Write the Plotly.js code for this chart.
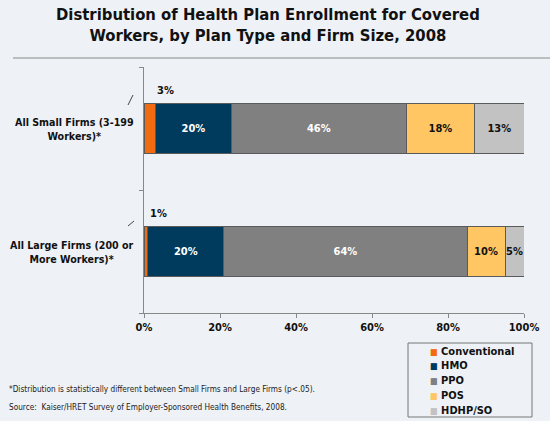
<!DOCTYPE html>
<html>
<head>
<meta charset="utf-8">
<script src="https://cdn.plot.ly/plotly-3.0.1.min.js"></script>
<style>html,body{margin:0;padding:0;background:#eef1f5;}#chart{width:550px;height:421px;}</style>
</head>
<body>
<div id="chart"></div>
<script>
// ---- data ----
var categories = ['All Small Firms (3-199 Workers)*', 'All Large Firms (200 or More Workers)*'];
var categoryLabels = ['All Small Firms (3-199<br>Workers)*', 'All Large Firms (200 or<br>More Workers)*'];
var seriesNames = ['Conventional', 'HMO', 'PPO', 'POS', 'HDHP/SO'];
var conventional = [3, 1];
var hmo = [20, 20];
var ppo = [46, 64];
var pos = [18, 10];
var hdhp = [13, 5];
var xTickVals = [0, 20, 40, 60, 80, 100];
var xTickText = ['0%', '20%', '40%', '60%', '80%', '100%'];
var title = 'Distribution of Health Plan Enrollment for Covered<br>Workers, by Plan Type and Firm Size, 2008';
var footnote1 = '*Distribution is statistically different between Small Firms and Large Firms (p<.05).';
var footnote2 = 'Source:  Kaiser/HRET Survey of Employer-Sponsored Health Benefits, 2008.';

var colors = ['#f26b10', '#003a5c', '#808080', '#ffc663', '#c2c2c2'];
var textColors = ['#000', '#fff', '#fff', '#111', '#111'];
var values = [conventional, hmo, ppo, pos, hdhp];
var FONT = "Tahoma, 'DejaVu Sans Condensed', 'DejaVu Sans', sans-serif";

var traces = values.map(function (v, i) {
  return {
    type: 'bar',
    orientation: 'h',
    name: seriesNames[i],
    y: categories,
    x: v,
    width: 0.4,
    text: i === 0 ? v.map(function () { return ''; }) : v.map(function (d) { return d + '%'; }),
    textposition: 'inside',
    insidetextanchor: 'middle',
    textangle: 0,
    constraintext: 'none',
    textfont: {family: FONT, size: 11, color: textColors[i], weight: 'bold'},
    marker: {color: colors[i], line: {color: '#5a5a5a', width: 1}},
    showlegend: false,
    hoverinfo: 'skip'
  };
});

function px(xp) { return (xp - 144) / 380; }
function py(yp) { return (313 - yp) / 246; }

var annotations = [];
annotations.push({
  xref: 'paper', x: px(268), xanchor: 'center',
  yref: 'paper', y: py(3), yanchor: 'top',
  text: title, showarrow: false, align: 'center',
  font: {family: FONT, size: 16.5, color: '#111', weight: 'bold'}
});
categories.forEach(function (c, k) {
  annotations.push({
    xref: 'paper', x: 0, xanchor: 'right', xshift: -8,
    yref: 'y', y: c, yanchor: 'middle',
    text: categoryLabels[k], showarrow: false, align: 'center',
    font: {family: FONT, size: 10.6, color: '#111', weight: 'bold'}
  });
  annotations.push({
    xref: 'x', x: conventional[k], xanchor: 'left', xshift: 0,
    yref: 'y', y: c, yanchor: 'middle', yshift: 38,
    text: conventional[k] + '%', showarrow: false,
    font: {family: FONT, size: 11, color: '#111', weight: 'bold'}
  });
});
annotations.push({
  xref: 'paper', x: px(7), xanchor: 'left',
  yref: 'paper', y: py(389), yanchor: 'middle',
  text: footnote1, showarrow: false, align: 'left',
  font: {family: FONT, size: 8.2, color: '#222'}
});
annotations.push({
  xref: 'paper', x: px(7), xanchor: 'left',
  yref: 'paper', y: py(407), yanchor: 'middle',
  text: footnote2, showarrow: false, align: 'left',
  font: {family: FONT, size: 8.2, color: '#222'}
});
// legend entries (one per series)
seriesNames.forEach(function (name, i) {
  annotations.push({
    xref: 'paper', x: px(428), xanchor: 'left',
    yref: 'paper', y: py(351 + i * 14.8), yanchor: 'middle',
    text: '<span style="color:' + colors[i] + ';font-size:9px">■</span> ' + name,
    showarrow: false, align: 'left',
    font: {family: FONT, size: 11, color: '#111', weight: 'bold'}
  });
});

var shapes = [
  {type: 'line', xref: 'paper', yref: 'paper', x0: px(13), x1: px(550), y0: py(58), y1: py(58),
   line: {color: '#8a8a8a', width: 1.2}},
  {type: 'line', xref: 'paper', yref: 'paper', x0: px(128), x1: px(133), y0: py(105), y1: py(95),
   line: {color: '#444', width: 1}},
  {type: 'line', xref: 'paper', yref: 'paper', x0: px(128), x1: px(134), y0: py(226), y1: py(221),
   line: {color: '#444', width: 1}},
  {type: 'rect', xref: 'paper', yref: 'paper', x0: px(408), x1: px(532), y0: py(343), y1: py(417),
   line: {color: '#777', width: 1}, fillcolor: 'rgba(0,0,0,0)'}
];

var layout = {
  width: 550, height: 421,
  paper_bgcolor: '#eef1f5', plot_bgcolor: '#eef1f5',
  margin: {l: 144, r: 26, t: 67, b: 108, autoexpand: false},
  barmode: 'stack',
  bargap: 0.6,
  showlegend: false,
  xaxis: {range: [0, 100], tickvals: xTickVals, ticktext: xTickText,
          showgrid: false, zeroline: false, showline: true, linecolor: '#888', linewidth: 1,
          ticks: 'outside', ticklen: 4, tickcolor: '#888', automargin: false,
          tickfont: {family: FONT, size: 11, color: '#111', weight: 'bold'}, fixedrange: true},
  yaxis: {type: 'category', categoryorder: 'array', categoryarray: categories.slice().reverse(),
          showticklabels: false, showgrid: false, zeroline: false, automargin: false,
          showline: true, linecolor: '#888', linewidth: 1,
          ticks: 'outside', ticklen: 4, tickcolor: '#888', tickson: 'boundaries', fixedrange: true},
  annotations: annotations,
  shapes: shapes
};

Plotly.newPlot('chart', traces, layout, {displayModeBar: false, staticPlot: true});
</script>
</body>
</html>
